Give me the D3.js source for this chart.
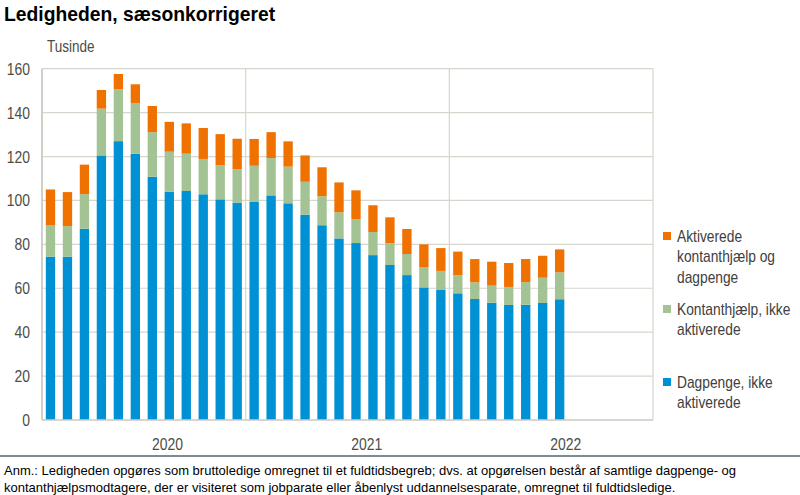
<!DOCTYPE html>
<html>
<head>
<meta charset="utf-8">
<script src="https://cdn.jsdelivr.net/npm/d3@7"></script>
<style>
  body { margin: 0; background: #fff; }
  svg { display: block; }
  .narrow { font-family: "Liberation Sans", Arial, sans-serif; }
</style>
</head>
<body>
<svg id="chart" width="800" height="495"></svg>
<script>
// måneder jan 2020 - jul 2022, tusinde personer (aflæst)
const months = d3.range(31).map(i => d3.timeMonth.offset(new Date(2020, 0, 1), i));
const dagpenge = [74.4, 74.4, 87.1, 120.5, 127.0, 121.3, 110.8, 104.0, 104.3, 102.8, 100.5, 99.0,
  99.3, 102.3, 98.7, 93.5, 88.7, 82.7, 80.6, 75.1, 70.6, 66.0, 60.4, 59.2,
  57.7, 55.1, 53.4, 52.4, 52.5, 53.3, 55.0];
const kontant = [14.4, 13.9, 15.8, 21.3, 23.7, 23.1, 20.3, 18.2, 17.0, 16.1, 15.5, 15.2,
  16.5, 17.0, 16.7, 15.0, 13.2, 11.9, 10.9, 10.5, 9.9, 9.6, 9.1, 8.7,
  8.2, 7.6, 7.8, 8.2, 10.3, 11.5, 12.3];
const aktiverede = [16.2, 15.5, 13.4, 8.5, 6.9, 8.5, 11.9, 13.6, 13.8, 14.1, 14.2, 13.9,
  12.2, 11.8, 11.5, 12.0, 13.2, 13.6, 13.1, 12.2, 11.8, 11.4, 10.5, 10.4,
  10.8, 10.6, 10.9, 10.9, 10.5, 10.0, 10.4];
const years = ["2020", "2021", "2022"];
const yTicks = [0, 20, 40, 60, 80, 100, 120, 140, 160];

const series = [
  { key: "dagpenge", label: ["Dagpenge, ikke", "aktiverede"], color: "#0090d4" },
  { key: "kontant", label: ["Kontanthjælp, ikke", "aktiverede"], color: "#a3c395" },
  { key: "aktiverede", label: ["Aktiverede", "kontanthjælp og", "dagpenge"], color: "#ef7100" }
];

const rows = months.map((m, i) => ({ m: i, dagpenge: dagpenge[i], kontant: kontant[i], aktiverede: aktiverede[i] }));
const stacked = d3.stack().keys(series.map(s => s.key))(rows);

const svg = d3.select("#chart");
const plotL = 42, plotR = 653, plotT = 68.7, plotB = 420;
const squeeze = 0.82; // ingen Arial Narrow installeret, så tekst trykkes vandret

// 36 måneder på aksen (3 år), kun 31 med data
const x = d3.scaleBand().domain(d3.range(36)).range([plotL, plotR]).paddingInner(0.45).paddingOuter(0.225);
const xLin = d3.scaleLinear().domain([0, 36]).range([plotL, plotR]);
const y = d3.scaleLinear().domain([0, 160]).range([plotB, plotT]);

const narrowAt = (sel, fx, fy) => sel
  .attr("class", "narrow")
  .attr("transform", (d, i) => `translate(${fx(d, i)},${fy(d, i)}) scale(${squeeze},1)`);

svg.append("text")
  .attr("x", 4).attr("y", 21)
  .attr("font-family", "Liberation Sans, Arial, sans-serif")
  .attr("font-weight", "bold").attr("font-size", 19.3)
  .attr("fill", "#000")
  .text("Ledigheden, sæsonkorrigeret");

svg.append("text")
  .call(narrowAt, () => 47, () => 52)
  .attr("font-size", 16.5).attr("fill", "#4d4d45")
  .text("Tusinde");

// gitter
const grid = svg.append("g").attr("stroke", "#d6d6ce").attr("stroke-width", 1.2);
grid.selectAll("line.h").data(yTicks).join("line")
  .attr("x1", plotL).attr("x2", plotR)
  .attr("y1", d => y(d)).attr("y2", d => y(d));
grid.selectAll("line.v").data([0, 12, 24, 36]).join("line")
  .attr("x1", d => xLin(d)).attr("x2", d => xLin(d))
  .attr("y1", plotT).attr("y2", plotB);
svg.append("line")
  .attr("x1", plotL).attr("x2", plotL).attr("y1", plotT).attr("y2", plotB)
  .attr("stroke", "#c8c8c0").attr("stroke-width", 1.5);

// søjler
svg.append("g").selectAll("g").data(stacked).join("g")
  .attr("fill", (d, i) => series[i].color)
  .selectAll("rect").data(d => d).join("rect")
  .attr("x", d => x(d.data.m))
  .attr("width", x.bandwidth())
  .attr("y", d => y(d[1]))
  .attr("height", d => y(d[0]) - y(d[1]));

svg.append("line")
  .attr("x1", plotL).attr("x2", plotR).attr("y1", plotB).attr("y2", plotB)
  .attr("stroke", "#d0d0c8").attr("stroke-width", 1.5);

// y-akse
svg.append("g").selectAll("text").data(yTicks).join("text")
  .call(narrowAt, () => 30, d => y(d) + 6)
  .attr("text-anchor", "end")
  .attr("font-size", 17).attr("fill", "#4d4d45")
  .text(d => d);

// år - Excel placerer etiketterne lidt til højre for årets midte
svg.append("g").selectAll("text").data(years).join("text")
  .call(narrowAt, (d, i) => xLin(7.4 + i * 11.73), () => 450)
  .attr("text-anchor", "middle")
  .attr("font-size", 17).attr("fill", "#4d4d45")
  .text(d => d);

// legende
const legendY = { aktiverede: 236, kontant: 309, dagpenge: 382 };
const legend = svg.append("g").selectAll("g").data(series).join("g")
  .attr("transform", d => `translate(663,${legendY[d.key]})`);
legend.append("rect")
  .attr("x", 0).attr("y", -4).attr("width", 8).attr("height", 8)
  .attr("fill", d => d.color);
legend.append("text")
  .call(narrowAt, () => 14, () => 0)
  .attr("font-size", 16.8).attr("fill", "#404040")
  .selectAll("tspan").data(d => d.label).join("tspan")
  .attr("x", 0).attr("y", (d, i) => 6 + i * 20.3)
  .text(d => d);

// note
svg.append("line")
  .attr("x1", 0).attr("x2", 800).attr("y1", 456).attr("y2", 456)
  .attr("stroke", "#7f8b93").attr("stroke-width", 2);
const note = svg.append("text")
  .attr("font-family", "Liberation Sans, Arial, sans-serif")
  .attr("font-size", 13).attr("fill", "#000");
note.append("tspan").attr("x", 4).attr("y", 475)
  .text("Anm.: Ledigheden opgøres som bruttoledige omregnet til et fuldtidsbegreb; dvs. at opgørelsen består af samtlige dagpenge- og");
note.append("tspan").attr("x", 4).attr("y", 492)
  .text("kontanthjælpsmodtagere, der er visiteret som jobparate eller åbenlyst uddannelsesparate, omregnet til fuldtidsledige.");
</script>
</body>
</html>
